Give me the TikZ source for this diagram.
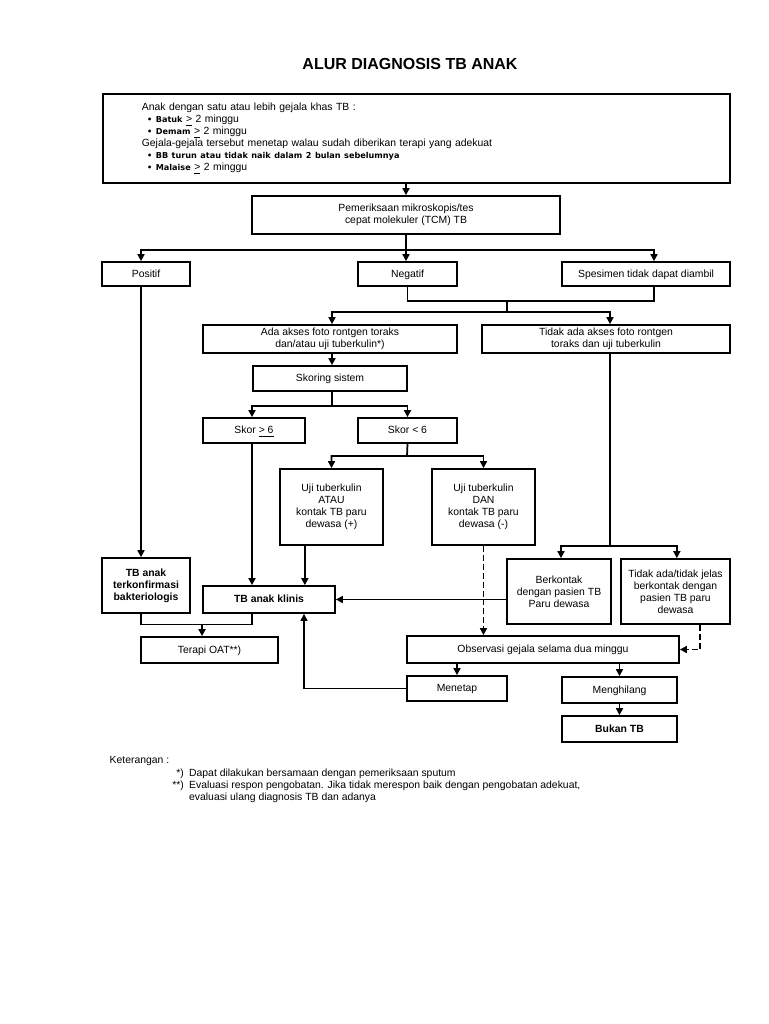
\documentclass[tikz,border=0pt]{standalone}
\usepackage{fontspec}
\setmainfont{Liberation Sans}
\newfontfamily\itemfont{DejaVu Sans}
\usepackage{tikz}
\usetikzlibrary{arrows.meta,shadows}

\newcommand{\fs}{\fontsize{7.8}{9}\selectfont}
\newcommand{\itm}[1]{{\itemfont\bfseries\fontsize{6.1}{9}\selectfont #1}}

\tikzset{
  box/.style={draw, line width=1.3pt, fill=white, align=center, font=\fs, inner sep=1pt,
    drop shadow={shadow xshift=0.7pt, shadow yshift=-0.7pt, fill=black, opacity=1}},
  one/.style={text height=5.7pt, text depth=0.6pt},
  sz/.style 2 args={minimum width={#1*0.75pt}, minimum height={#2*0.75pt}},
  arr/.style={-{Triangle[length=5.2pt,width=5.2pt]}, line width=1.3pt},
  thinline/.style={line width=0.8pt},
  dsh/.style={dash pattern=on 4.5pt off 2.2pt}
}

\begin{document}
\begin{tikzpicture}[x=0.75pt, y=-0.75pt]
\useasboundingbox (0,0) rectangle (768,1024);

\node (judul) at (410,64) {\bfseries\fontsize{12}{14}\selectfont ALUR DIAGNOSIS TB ANAK};

\node[box, sz={627}{89}, align=left, inner xsep=29pt, text width=412pt] (gejala) at (416.5,138.5)
  {Anak dengan satu atau lebih gejala khas TB :\\
   \hspace*{4pt}\itm{• Batuk} \underline{>} 2 minggu\\
   \hspace*{4pt}\itm{• Demam} \underline{>} 2 minggu\\
   Gejala-gejala tersebut menetap walau sudah diberikan terapi yang adekuat\\
   \hspace*{4pt}\itm{• BB turun atau tidak naik dalam 2 bulan sebelumnya}\\
   \hspace*{4pt}\itm{• Malaise} \underline{>} 2 minggu};

\node[box, sz={308}{38}] (periksa) at (406,215) {Pemeriksaan mikroskopis/tes\\cepat molekuler (TCM) TB};

\node[box, one, sz={88}{24}] (positif) at (146,274) {Positif};
\node[box, one, sz={99}{24}] (negatif) at (407.5,274) {Negatif};
\node[box, one, sz={168}{24}] (spesimen) at (646,274) {Spesimen tidak dapat diambil};

\node[box, sz={254}{28}] (ada) at (330,339) {Ada akses foto rontgen toraks\\dan/atau uji tuberkulin*)};
\node[box, sz={248}{28}] (tidak) at (606,339) {Tidak ada akses foto rontgen\\toraks dan uji tuberkulin};

\node[box, one, sz={154}{25}] (skoring) at (330,378.5) {Skoring sistem};

\node[box, one, sz={102}{25}] (skor1) at (254,430.5) {Skor \underline{> 6}};
\node[box, one, sz={99}{25}] (skor2) at (407.5,430.5) {Skor < 6};

\node[box, sz={103}{76}] (uji1) at (331.5,507) {Uji tuberkulin\\ATAU\\kontak TB paru\\dewasa (+)};
\node[box, sz={103}{76}] (uji2) at (483.5,507) {Uji tuberkulin\\DAN\\kontak TB paru\\dewasa (-)};

\node[box, sz={88}{55}, font=\fs\bfseries] (konfirmasi) at (146,585.5) {TB anak\\terkonfirmasi\\bakteriologis};
\node[box, one, sz={132}{27}, font=\fs\bfseries] (klinis) at (269,599.5) {TB anak klinis};
\node[box, sz={104}{65}] (berkontak) at (559,591.5) {Berkontak\\dengan pasien TB\\Paru dewasa};
\node[box, sz={109}{65}] (ragu) at (675.5,591.5) {Tidak ada/tidak jelas\\berkontak dengan\\pasien TB paru\\dewasa};

\node[box, one, sz={137}{26}] (terapi) at (209.5,650) {Terapi OAT**)};
\node[box, one, sz={272}{27}] (observasi) at (543,649.5) {Observasi gejala selama dua minggu};

\node[box, one, sz={100}{25}] (menetap) at (457,688.5) {Menetap};
\node[box, one, sz={115}{26}] (menghilang) at (619.5,690) {Menghilang};
\node[box, one, sz={115}{26}, font=\fs\bfseries] (bukan) at (619.5,729) {Bukan TB};

\node[anchor=west, font=\fs] (keterangan) at (105,761) {Keterangan :};
\node[anchor=north west, font=\fs, inner sep=0pt] (catatan) at (172,768)
  {\begin{tabular}{@{}r@{\hspace{4pt}}l@{}}
   {*)} & Dapat dilakukan bersamaan dengan pemeriksaan sputum\\
   {**)} & Evaluasi respon pengobatan. Jika tidak merespon baik dengan pengobatan adekuat,\\
   & evaluasi ulang diagnosis TB dan adanya
   \end{tabular}};

\coordinate (c1) at (406,250);
\coordinate (c3) at (507,312);
\coordinate (c4) at (332,406);
\coordinate (c5) at (407,456);
\coordinate (c6) at (610,546);
\coordinate (c7) at (202,624);

\draw[arr] (periksa.north |- gejala.south) -- (periksa.north);
\draw[arr] (periksa.south) -- (c1) -| ([xshift=-3.75pt]positif.north);
\draw[arr] (c1) -- (c1 |- negatif.north);
\draw[arr] (c1) -| ([xshift=6pt]spesimen.north);
\draw[line width=1.3pt] (negatif.south) -- ++(0,14) -| ([xshift=6pt]spesimen.south);
\draw[line width=1.3pt] (c3 |- negatif.south) ++(0,14) -- (c3);
\draw[arr] (c3) -| ([xshift=1.5pt]ada.north);
\draw[arr] (c3) -| ([xshift=3pt]tidak.north);
\draw[arr] ([xshift=1.5pt]ada.south) -- ([xshift=1.5pt]skoring.north);
\draw[arr] ([xshift=1.5pt]skoring.south) -- (c4) -| ([xshift=-1.5pt]skor1.north);
\draw[arr] (c4) -| (skor2.north);
\draw[arr] (skor2.south) -- (c5) -| (uji1.north);
\draw[arr] (c5) -| (uji2.north);
\draw[arr] ([xshift=-3.75pt]positif.south) -- ([xshift=-3.75pt]konfirmasi.north);
\draw[arr] ([xshift=-1.5pt]skor1.south) -- ([xshift=-1.5pt]skor1.south |- klinis.north);
\draw[arr] ([xshift=-20pt]uji1.south) -- ([xshift=-20pt]uji1.south |- klinis.north);
\draw[arr, dsh] (uji2.south) -- (uji2.south |- observasi.north);
\draw[arr] ([xshift=3pt]tidak.south) -- (c6) -| ([xshift=1.5pt]berkontak.north);
\draw[arr] (c6) -| ([xshift=1pt]ragu.north);
\draw[arr] (berkontak.west |- klinis.east) -- (klinis.east);
\draw[arr, dsh] ([xshift=18.4pt]ragu.south) |- (observasi.east);
\draw[thinline] ([xshift=-3.75pt]konfirmasi.south) -- ++(0,11) -| ([xshift=-12.75pt]klinis.south);
\draw[arr] (c7) -- ([xshift=-5.6pt]terapi.north);
\draw[arr] (menetap.north |- observasi.south) -- (menetap.north);
\draw[arr] (menghilang.north |- observasi.south) -- (menghilang.north);
\draw[arr, thinline] (menetap.west) -| ([xshift=26.25pt]klinis.south);
\draw[arr] (menghilang.south) -- (bukan.north);
\end{tikzpicture}
\end{document}
